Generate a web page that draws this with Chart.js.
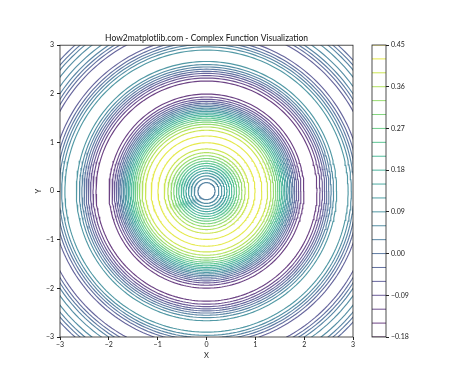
<!DOCTYPE html>
<html>
<head>
<meta charset="utf-8">
<script src="https://cdn.jsdelivr.net/npm/chart.js@4.4.0/dist/chart.umd.min.js"></script>
<style>
  html, body { margin: 0; padding: 0; background: #fff; }
  #wrap { position: relative; width: 474px; height: 379px; }
  #wrap canvas { position: absolute; left: 0; top: 0; }
</style>
</head>
<body>
<div id="wrap">
  <canvas id="contour" width="474" height="379"></canvas>
  <canvas id="colorbar" width="474" height="379"></canvas>
</div>
<script>
// contour levels shown on the colorbar (step 0.03)
const levels = [-0.18, -0.15, -0.12, -0.09, -0.06, -0.03, 0.00, 0.03, 0.06, 0.09, 0.12,
                0.15, 0.18, 0.21, 0.24, 0.27, 0.30, 0.33, 0.36, 0.39, 0.42, 0.45];
const colorbarTicks = [-0.18, -0.09, 0.00, 0.09, 0.18, 0.27, 0.36, 0.45];
const axisTicks = [-3, -2, -1, 0, 1, 2, 3];

// every ring in the plot: its level and its radius
const ringLevel = [
  0.03, 0.06, 0.09, 0.12, 0.15, 0.18, 0.21, 0.24, 0.27, 0.30, 0.33, 0.36, 0.39, 0.42,
  0.42, 0.39, 0.36, 0.33, 0.30, 0.27, 0.24, 0.21, 0.18, 0.15, 0.12, 0.09, 0.06, 0.03, 0.00,
  -0.03, -0.06, -0.09, -0.12, -0.15,
  -0.15, -0.12, -0.09, -0.06, -0.03, 0.00, 0.03, 0.06, 0.09,
  0.09, 0.06, 0.03, 0.00, -0.03, -0.06,
  -0.06, -0.03, 0.00, 0.03, 0.06,
  0.06, 0.03, 0.00, -0.03
];
const ringRadius = [
  0.176, 0.253, 0.315, 0.370, 0.421, 0.471, 0.520, 0.569, 0.618, 0.671, 0.727, 0.791, 0.867, 0.994,
  1.133, 1.251, 1.319, 1.373, 1.419, 1.461, 1.499, 1.536, 1.571, 1.605, 1.638, 1.671, 1.704, 1.738, 1.772,
  1.808, 1.846, 1.888, 1.935, 1.996,
  2.263, 2.325, 2.375, 2.421, 2.463, 2.507, 2.552, 2.602, 2.665,
  2.900, 2.966, 3.019, 3.070, 3.123, 3.187,
  3.421, 3.487, 3.545, 3.606, 3.693,
  3.809, 3.899, 3.963, 4.031
];

const FONT = 'Lato, "Liberation Sans", sans-serif';

const viridisStops = ['#440154', '#481a6c', '#472f7d', '#414487', '#39568c', '#31688e', '#2a788e', '#23888e',
                      '#1f988b', '#22a884', '#35b779', '#54c568', '#7ad151', '#a5db36', '#d2e21b', '#fde725'];

function hexRgb(h) {
  return [parseInt(h.slice(1, 3), 16), parseInt(h.slice(3, 5), 16), parseInt(h.slice(5, 7), 16)];
}

function viridis(t, alpha) {
  const p = Math.max(0, Math.min(1, t)) * (viridisStops.length - 1);
  const i = Math.min(Math.floor(p), viridisStops.length - 2);
  const f = p - i;
  const a = hexRgb(viridisStops[i]), b = hexRgb(viridisStops[i + 1]);
  const c = a.map((v, k) => Math.round(v + (b[k] - v) * f));
  return 'rgba(' + c.join(',') + ',' + alpha + ')';
}

const vmin = levels[0], vmax = levels[levels.length - 1];
function levelColor(L, alpha) {
  return viridis((L - vmin) / (vmax - vmin), alpha);
}

function circlePoints(r) {
  const pts = [];
  for (let deg = 0; deg <= 360; deg += 1.5) {
    const a = deg * Math.PI / 180;
    pts.push({ x: r * Math.cos(a), y: r * Math.sin(a) });
  }
  return pts;
}

function fmtMinus(s) {
  return s.replace('-', '\u2212');
}

const framePlugin = {
  id: 'frame',
  afterDatasetsDraw(chart) {
    const { ctx, chartArea: a } = chart;
    ctx.save();
    ctx.strokeStyle = '#222';
    ctx.lineWidth = 0.8;
    ctx.strokeRect(a.left, a.top, a.right - a.left, a.bottom - a.top);
    ctx.restore();
  }
};

const ringSets = ringRadius.map((r, i) => ({
  data: circlePoints(r),
  showLine: true,
  borderColor: levelColor(ringLevel[i], 0.8),
  borderWidth: 1.15,
  pointRadius: 0,
  tension: 0
}));

new Chart(document.getElementById('contour'), {
  type: 'scatter',
  data: { datasets: ringSets },
  options: {
    responsive: false,
    animation: false,
    events: [],
    layout: { padding: { left: 30, right: 121, top: 0, bottom: 0 } },
    plugins: {
      legend: { display: false },
      tooltip: { enabled: false },
      title: {
        display: true,
        text: 'How2matplotlib.com - Complex Function Visualization',
        fullSize: false,
        color: '#111',
        font: { family: FONT, size: 8.5, weight: 'normal' },
        padding: { top: 33, bottom: 2 }
      }
    },
    scales: {
      x: {
        type: 'linear', min: -3, max: 3,
        afterBuildTicks: s => { s.ticks = axisTicks.map(v => ({ value: v })); },
        afterFit: s => { s.height = 42; },
        ticks: { color: '#222', font: { family: FONT, size: 7 }, padding: 1, maxRotation: 0,
                 callback: v => fmtMinus(String(v)) },
        grid: { drawOnChartArea: false, tickLength: 3, tickColor: '#222' },
        border: { display: false },
        title: { display: true, text: 'X', color: '#222', font: { family: FONT, size: 7.5 },
                 padding: { top: 0, bottom: 19 } }
      },
      y: {
        type: 'linear', min: -3, max: 3,
        afterBuildTicks: s => { s.ticks = axisTicks.map(v => ({ value: v })); },
        afterFit: s => { s.width = 30; },
        ticks: { color: '#222', font: { family: FONT, size: 7 }, padding: 3,
                 callback: v => fmtMinus(String(v)) },
        grid: { drawOnChartArea: false, tickLength: 3, tickColor: '#222' },
        border: { display: false },
        title: { display: true, text: 'Y', color: '#222', font: { family: FONT, size: 7.5 },
                 padding: { top: 4, bottom: 0 } }
      }
    }
  },
  plugins: [framePlugin]
});

// colorbar: one horizontal line for each level
const barSets = levels.map(L => ({
  data: [{ x: 0, y: L }, { x: 1, y: L }],
  showLine: true,
  borderColor: levelColor(L, 0.8),
  borderWidth: 1,
  pointRadius: 0
}));

new Chart(document.getElementById('colorbar'), {
  type: 'scatter',
  data: { datasets: barSets },
  options: {
    responsive: false,
    animation: false,
    events: [],
    layout: { padding: { left: 372, right: 48, top: 45, bottom: 42 } },
    plugins: { legend: { display: false }, tooltip: { enabled: false } },
    scales: {
      x: { type: 'linear', display: false, min: 0, max: 1 },
      y: {
        type: 'linear', position: 'right', min: vmin, max: vmax,
        afterBuildTicks: s => { s.ticks = colorbarTicks.map(v => ({ value: v })); },
        afterFit: s => { s.width = 40; },
        ticks: { color: '#222', font: { family: FONT, size: 7 }, padding: 2,
                 callback: v => fmtMinus(v.toFixed(2)) },
        grid: { drawOnChartArea: false, tickLength: 3, tickColor: '#222' },
        border: { display: false }
      }
    }
  },
  plugins: [framePlugin]
});
</script>
</body>
</html>
